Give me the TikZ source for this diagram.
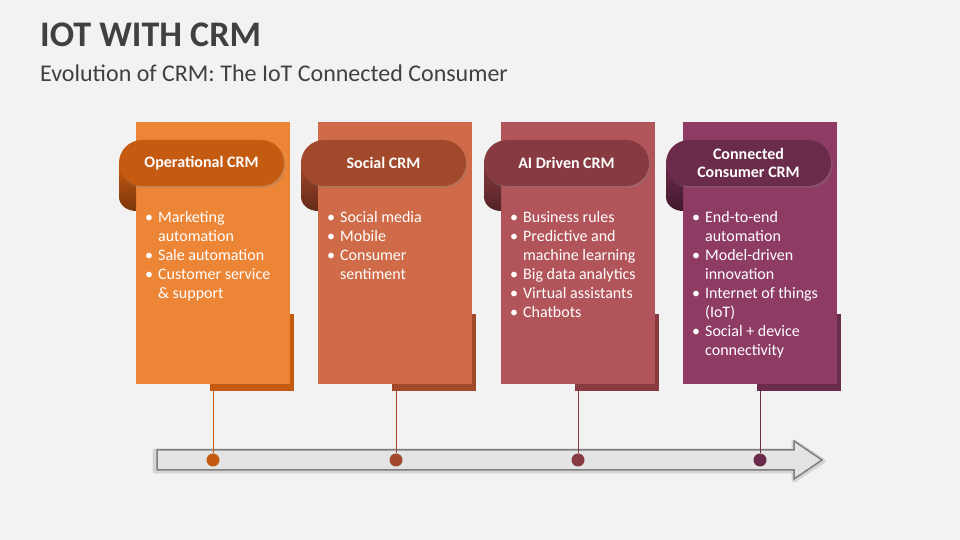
\documentclass[tikz,border=0pt]{standalone}
\usepackage{fontspec}
\setmainfont{Carlito}
\usepackage{xcolor}
\usepackage{tikz}
\usetikzlibrary{positioning,shadows}

\definecolor{slidebg}{HTML}{F2F2F2}
\definecolor{ink}{HTML}{404040}
\definecolor{opLight}{HTML}{ED8537}
\definecolor{opDark}{HTML}{C55A11}
\definecolor{opCurl}{HTML}{7A360A}
\definecolor{socLight}{HTML}{CF6B48}
\definecolor{socDark}{HTML}{A3492B}
\definecolor{socCurl}{HTML}{632A18}
\definecolor{aiLight}{HTML}{B2555A}
\definecolor{aiDark}{HTML}{873B41}
\definecolor{aiCurl}{HTML}{522226}
\definecolor{conLight}{HTML}{8F3C64}
\definecolor{conDark}{HTML}{6B2B4A}
\definecolor{conCurl}{HTML}{42192D}
\definecolor{barfill}{HTML}{E4E4E4}
\definecolor{barline}{HTML}{7F7F7F}

\newcommand{\itm}{\textbullet}

\begin{document}
\begin{tikzpicture}[x=1pt,y=1pt,
    card/.style={rectangle, inner sep=0, minimum width=154, minimum height=262},
    backbox/.style={rectangle, inner sep=0, minimum width=84, minimum height=77},
    tag/.style={rectangle, rounded corners=23, inner sep=0, minimum width=165, minimum height=46,
        text=white, align=center, font=\fontsize{16}{18}\selectfont\bfseries,
        drop shadow={shadow xshift=1.5, shadow yshift=-2, opacity=0.3}},
    items/.style={inner sep=0, anchor=base west, text=white, font=\fontsize{16}{19}\selectfont},
    stem/.style={line width=1},
    bead/.style={circle, inner sep=0, minimum size=13}
]

\fill[slidebg] (0,0) rectangle (960,540);
\useasboundingbox (0,0) rectangle (960,540);

\node[anchor=base west, inner sep=0, text=ink, font=\fontsize{36}{40}\selectfont\bfseries] (title) at (40,493) {IOT WITH CRM};
\node[anchor=base west, inner sep=0, text=ink, font=\fontsize{24}{28}\selectfont] (subtitle) at (40,458) {Evolution of CRM: The IoT Connected Consumer};

% operational
\node[backbox, fill=opDark] (opback) at (252,187.5) {};
\node[card, fill=opLight] (op) at (213,287) {};
\shade[top color=opDark, bottom color=opCurl] (119,377) -- (119,343) arc[start angle=180, end angle=270, x radius=17, y radius=14] -- (136,377) -- cycle;
\node[tag, fill=opDark] (optag) at (201.5,377) {Operational CRM};
\node[items] (opitems) at (145,317) {\begin{tabular}[t]{@{}l@{\hspace{5pt}}l@{}}
\itm & Marketing\\ & automation\\ \itm & Sale automation\\ \itm & Customer service\\ & \& support\end{tabular}};

% social
\node[backbox, fill=socDark] (socback) at (434,187.5) {};
\node[card, fill=socLight] (soc) at (395,287) {};
\shade[top color=socDark, bottom color=socCurl] (301,377) -- (301,343) arc[start angle=180, end angle=270, x radius=17, y radius=14] -- (318,377) -- cycle;
\node[tag, fill=socDark] (soctag) at (383.5,377) {Social CRM};
\node[items] (socitems) at (327,317) {\begin{tabular}[t]{@{}l@{\hspace{5pt}}l@{}}
\itm & Social media\\ \itm & Mobile\\ \itm & Consumer\\ & sentiment\end{tabular}};

% ai driven
\node[backbox, fill=aiDark] (aiback) at (617,187.5) {};
\node[card, fill=aiLight] (ai) at (578,287) {};
\shade[top color=aiDark, bottom color=aiCurl] (484,377) -- (484,343) arc[start angle=180, end angle=270, x radius=17, y radius=14] -- (501,377) -- cycle;
\node[tag, fill=aiDark] (aitag) at (566.5,377) {AI Driven CRM};
\node[items] (aiitems) at (510,317) {\begin{tabular}[t]{@{}l@{\hspace{5pt}}l@{}}
\itm & Business rules\\ \itm & Predictive and\\ & machine learning\\ \itm & Big data analytics\\ \itm & Virtual assistants\\ \itm & Chatbots\end{tabular}};

% connected consumer
\node[backbox, fill=conDark] (conback) at (799,187.5) {};
\node[card, fill=conLight] (con) at (760,287) {};
\shade[top color=conDark, bottom color=conCurl] (666,377) -- (666,343) arc[start angle=180, end angle=270, x radius=17, y radius=14] -- (683,377) -- cycle;
\node[tag, fill=conDark] (contag) at (748.5,377) {Connected\\Consumer CRM};
\node[items] (conitems) at (692,317) {\begin{tabular}[t]{@{}l@{\hspace{5pt}}l@{}}
\itm & End-to-end\\ & automation\\ \itm & Model-driven\\ & innovation\\ \itm & Internet of things\\ & (IoT)\\ \itm & Social + device\\ & connectivity\end{tabular}};

% timeline
\draw[line width=5, black, opacity=0.12, line join=round] (155,69) -- (794,69) -- (794,60) -- (823,79) -- (794,98) -- (794,89) -- (155,89) -- cycle;
\draw[line width=1.5, barline, fill=barfill] (157,70) -- (794,70) -- (794,61) -- (822,80) -- (794,99) -- (794,90) -- (157,90) -- cycle;

\node[bead, fill=opDark] (opdot) at (213,80) {};
\node[bead, fill=socDark] (socdot) at (396,80) {};
\node[bead, fill=aiDark] (aidot) at (578,80) {};
\node[bead, fill=conDark] (condot) at (760,80) {};

\draw[stem, opDark] (opdot) -- (opdot |- opback.south);
\draw[stem, socDark] (socdot) -- (socdot |- socback.south);
\draw[stem, aiDark] (aidot) -- (aidot |- aiback.south);
\draw[stem, conDark] (condot) -- (condot |- conback.south);

\end{tikzpicture}
\end{document}
